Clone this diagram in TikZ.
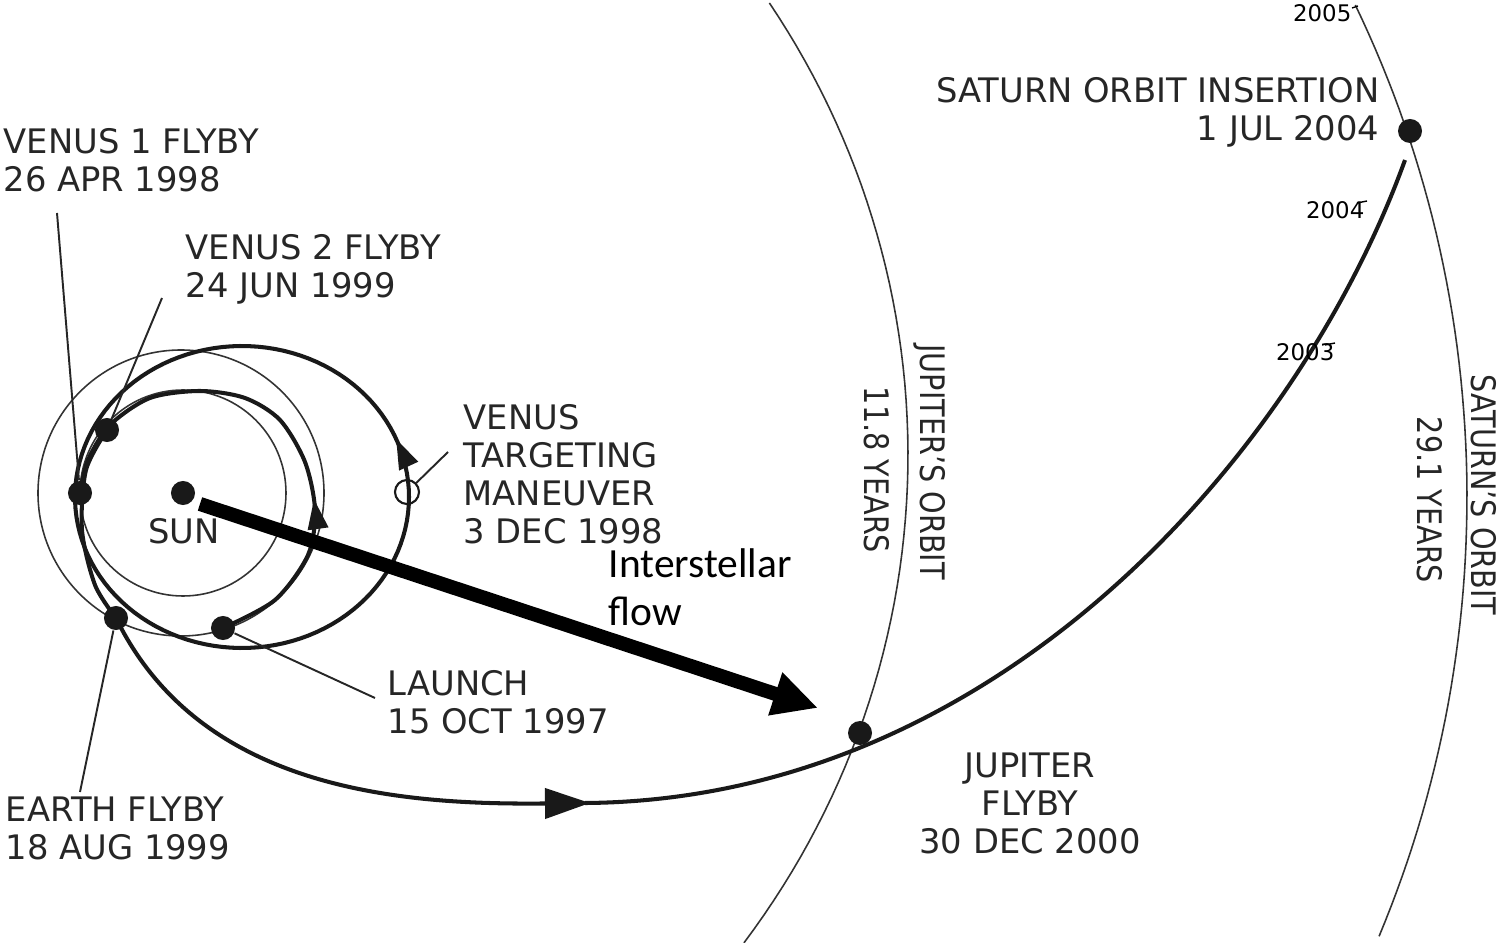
\documentclass[tikz,border=0pt]{standalone}
\usepackage{fontspec}
\setmainfont{DejaVu Sans}
\newfontfamily\calfont{Carlito}
\usetikzlibrary{arrows.meta,decorations.markings}
\begin{document}
\begin{tikzpicture}[x=0.01cm,y=-0.01cm,
  lbl/.style={font=\fontsize{9.6pt}{10.8pt}\selectfont,text=black!85,inner sep=0pt,align=left},
  rot/.style={font=\fontsize{9.6pt}{10.8pt}\selectfont,text=black!85,inner sep=0pt,rotate=-90,xscale=0.85},
  yr/.style={font=\fontsize{6.5pt}{7pt}\selectfont,inner sep=0pt},
  dot/.style={circle,fill=black!90,minimum size=0.24cm,inner sep=0pt},
  thin/.style={line width=0.45pt,draw=black!80},
  thk/.style={line width=1.15pt,draw=black!90},
  lead/.style={line width=0.55pt,draw=black!85},
  smarrow/.style={postaction={decorate},decoration={markings,
    mark=at position #1 with {\arrow{Triangle[length=0.3cm,width=0.2cm]}}}}]
\useasboundingbox (0,0) rectangle (1500,943);
% orbits
\draw[thin] (183,493) circle[radius=103];
\draw[thin] (181,493) circle[radius=143];
\draw[thin] plot[domain=-36:33,samples=60] ({49+859*cos(\x)},{455-830*sin(\x)});
\draw[thin] plot[domain=-24:27.1,samples=60] ({450+1017*cos(\x)},{497-1080*sin(\x)});
% trajectory
\draw[thk,smarrow=0.06] plot[domain=0:360,samples=120] ({242+167*cos(\x)},{497-151*sin(\x)});
\draw[thk,smarrow=0.33]
  plot[smooth] coordinates {(223,628) (275,600) (308,555) (315,510) (305,462) (280,420) (245,398) (200,391) (150,398) (110,425) (88,460) (80,493)};
\draw[thk] plot[smooth] coordinates {(107,430) (86,470) (82,530) (95,585) (116,618)};
\draw[thk,-{Triangle[length=0.45cm,width=0.3cm]}] (116,618) .. controls (200,790) and (400,805) .. (590,803);
\draw[thk] (585,803) .. controls (1000,800) and (1300,450) .. (1405,160);
% year ticks
\draw[line width=0.4pt] (1352,8) -- (1358,6);
\draw[line width=0.4pt] (1357,203) -- (1367,201);
\draw[line width=0.4pt] (1325,345) -- (1335,343);
\node[yr,anchor=east] (y05) at (1352,13) {2005};
\node[yr,anchor=east] (y04) at (1365,210) {2004};
\node[yr,anchor=east] (y03) at (1335,352) {2003};
% dots
\node[dot] (sun) at (183,493) {};
\node[dot] (v1) at (80,493) {};
\node[dot] (v2) at (107,430) {};
\node[dot] (earth) at (116,618) {};
\node[dot] (launch) at (223,628) {};
\node[circle,draw=black!90,line width=0.6pt,minimum size=0.24cm,inner sep=0pt] (vtm) at (407,492) {};
\node[dot] (jup) at (860,733) {};
\node[dot] (sat) at (1410,131) {};
% interstellar flow arrow
\coordinate (isf) at (818,708);
\draw[line width=4pt,-{Triangle[length=0.45cm,width=0.42cm]}] (sun.south east) ++(8,2) -- (isf);
% labels
\node[lbl,anchor=north west] (lv1) at (3,128) {VENUS 1 FLYBY\\26 APR 1998};
\node[lbl,anchor=north west] (lv2) at (185,234) {VENUS 2 FLYBY\\24 JUN 1999};
\node[lbl,anchor=north west] (lvt) at (463,404) {VENUS\\TARGETING\\MANEUVER\\3 DEC 1998};
\node[lbl,anchor=north west] (lla) at (387,670) {LAUNCH\\15 OCT 1997};
\node[lbl,anchor=north west] (lea) at (5,796) {EARTH FLYBY\\18 AUG 1999};
\node[lbl,align=center,anchor=north] (lju) at (1030,752) {JUPITER\\FLYBY\\30 DEC 2000};
\node[lbl,align=right,anchor=north east] (lsa) at (1380,77) {SATURN ORBIT INSERTION\\1 JUL 2004};
\node[lbl] (lsun) at (184,531) {SUN};
\node[inner sep=0pt,align=left,anchor=north west,font=\calfont\fontsize{11.8pt}{13.6pt}\selectfont] (lisf) at (608,548) {Interstellar\\flow};
\node[rot] (ljo) at (930,462) {JUPITER'S ORBIT};
\node[rot] (ljy) at (877,470) {11.8 YEARS};
\node[rot] (lso) at (1484,495) {SATURN'S ORBIT};
\node[rot] (lsy) at (1430,500) {29.1 YEARS};
% leaders
\draw[lead] (57,213) -- (v1);
\draw[lead] (162,298) -- (v2);
\draw[lead] (448,452) -- (vtm);
\draw[lead] (375,698) -- (launch);
\draw[lead] (80,792) -- (earth);
\end{tikzpicture}
\end{document}
